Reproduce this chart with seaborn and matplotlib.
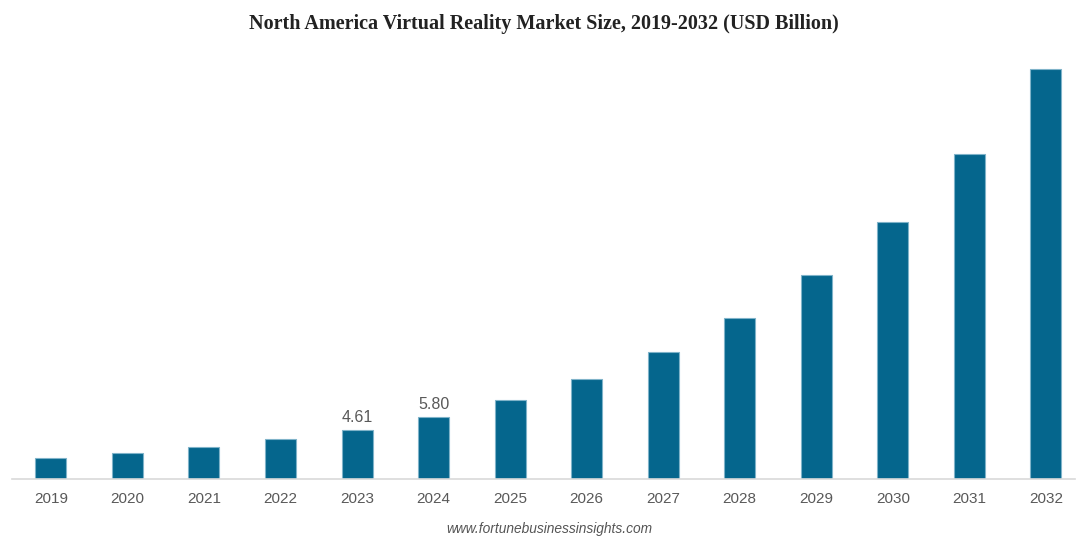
import pandas as pd
import seaborn as sns
import matplotlib.pyplot as plt

# Données (USD milliards)
years = ["2019", "2020", "2021", "2022", "2023", "2024", "2025",
         "2026", "2027", "2028", "2029", "2030", "2031", "2032"]
market_size = [1.97, 2.44, 2.99, 3.70, 4.61, 5.80, 7.34,
               9.26, 11.76, 14.90, 18.90, 23.85, 30.15, 37.96]
labelled_years = ["2023", "2024"]

df = pd.DataFrame({"year": years, "size": market_size})

sns.set_style("white")
plt.rcParams['font.family'] = ['Liberation Sans', 'DejaVu Sans']

fig = plt.figure(figsize=(10.88, 5.43), dpi=100)
ax = fig.add_axes([0.011, 0.1173, 0.977, 0.80])

sns.barplot(data=df, x="year", y="size", color="#05668d", width=0.405,
            edgecolor="#7fb3c9", linewidth=0.8, saturation=1, ax=ax)

ax.set_xlim(-0.508, 13.38)
ax.set_ylim(0, 0.80 * 543 / 10.8)

# Étiquettes de valeur seulement pour 2023 et 2024
labels = [f"{v:.2f}" if y in labelled_years else "" for y, v in zip(years, market_size)]
ax.bar_label(ax.containers[0], labels=labels, padding=3, color="#595959", fontsize=11.5)

sns.despine(ax=ax, left=True, top=True, right=True)
ax.spines['bottom'].set_color("#d9d9d9")
ax.spines['bottom'].set_linewidth(1.2)
ax.set_yticks([])
ax.set_xlabel("")
ax.set_ylabel("")
ax.tick_params(axis='x', length=0, pad=9, labelsize=11, labelcolor="#595959")

fig.text(0.5, 0.955, "North America Virtual Reality Market Size, 2019-2032 (USD Billion)",
         ha="center", va="center", fontsize=14.5, fontweight="bold",
         family=["Liberation Serif", "DejaVu Serif"], color="#222222")
fig.text(0.505, 0.025, "www.fortunebusinessinsights.com", ha="center", va="center",
         fontsize=9.9, style="italic", color="#555555")

fig.savefig("out.png", dpi=100)
